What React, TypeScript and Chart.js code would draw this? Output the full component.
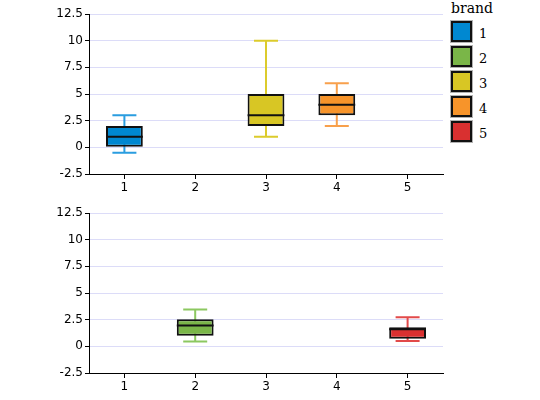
import { useEffect, useRef } from 'react';
import { Chart, registerables } from 'chart.js';

Chart.register(...registerables);

const brands = ['1', '2', '3', '4', '5'];
const yTicks = [-2.5, 0, 2.5, 5, 7.5, 10, 12.5];

const fills = ['#0088D1', '#7AB648', '#D8C624', '#F7942A', '#D93030'];
const whiskerColors = ['#2a9de0', '#8cc860', '#dccb2c', '#f8a04c', '#e24a4a'];

// top row
const topQ1 = [0, null, 2, 3, null];
const topQ3 = [2, null, 5, 5, null];
const topMedian = [1, null, 3, 4, null];
const topLow = [-0.5, null, 1, 2, null];
const topHigh = [3, null, 10, 6, null];

// bottom row
const botQ1 = [null, 1, null, null, 0.72];
const botQ3 = [null, 2.55, null, null, 1.78];
const botMedian = [null, 1.95, null, null, 1.6];
const botLow = [null, 0.45, null, null, 0.5];
const botHigh = [null, 3.45, null, null, 2.72];

const axisFont = { family: '"DejaVu Sans"', size: 12 };

type Row = {
  q1: (number | null)[];
  q3: (number | null)[];
  median: (number | null)[];
  low: (number | null)[];
  high: (number | null)[];
};

function Panel({ row, top }: { row: Row; top: number }) {
  const canvasRef = useRef<HTMLCanvasElement>(null);
  const chartRef = useRef<Chart | null>(null);

  useEffect(() => {
    if (!canvasRef.current) return;
    chartRef.current?.destroy();

    const whiskers = {
      id: 'whiskers',
      beforeDatasetsDraw(chart: any) {
        const { ctx, scales } = chart;
        const bars = chart.getDatasetMeta(0).data;
        ctx.save();
        ctx.lineWidth = 2;
        row.low.forEach((lo, i) => {
          const hi = row.high[i];
          if (lo == null || hi == null) return;
          const x = bars[i].x;
          const yLo = scales.y.getPixelForValue(lo);
          const yHi = scales.y.getPixelForValue(hi);
          const cap = 12;
          ctx.strokeStyle = whiskerColors[i];
          ctx.beginPath();
          ctx.moveTo(x, yLo);
          ctx.lineTo(x, yHi);
          ctx.moveTo(x - cap, yLo);
          ctx.lineTo(x + cap, yLo);
          ctx.moveTo(x - cap, yHi);
          ctx.lineTo(x + cap, yHi);
          ctx.stroke();
        });
        ctx.restore();
      },
      afterDatasetsDraw(chart: any) {
        const { ctx, scales } = chart;
        const bars = chart.getDatasetMeta(0).data;
        ctx.save();
        ctx.lineWidth = 2;
        ctx.strokeStyle = '#111';
        row.median.forEach((m, i) => {
          if (m == null) return;
          const b = bars[i];
          const y = scales.y.getPixelForValue(m);
          ctx.beginPath();
          ctx.moveTo(b.x - b.width / 2, y);
          ctx.lineTo(b.x + b.width / 2, y);
          ctx.stroke();
        });
        ctx.restore();
      },
    };

    chartRef.current = new Chart(canvasRef.current, {
      type: 'bar',
      data: {
        labels: brands,
        datasets: [
          {
            data: row.q1.map((q, i) => (q == null ? null : [q, row.q3[i] as number])) as any,
            backgroundColor: fills,
            borderColor: '#111',
            borderWidth: 2,
            borderSkipped: false,
            barPercentage: 0.52,
            categoryPercentage: 1,
          },
        ],
      },
      options: {
        responsive: false,
        animation: false,
        layout: { padding: { left: 0, right: 7, top: 14, bottom: 0 } },
        plugins: { legend: { display: false }, tooltip: { enabled: false } },
        scales: {
          x: {
            grid: {
              offset: false,
              drawOnChartArea: false,
              tickColor: '#000',
              tickLength: 5,
            },
            border: { color: '#000', width: 1 },
            ticks: { color: '#000', font: axisFont, padding: 2 },
            afterFit: (s: any) => {
              s.height = 26;
            },
          },
          y: {
            min: -2.5,
            max: 12.5,
            afterBuildTicks: (s: any) => {
              s.ticks = yTicks.map((v) => ({ value: v }));
            },
            grid: { color: '#dcdcf8', lineWidth: 1, tickColor: '#000', tickLength: 4 },
            border: { color: '#000', width: 1 },
            ticks: { color: '#000', font: axisFont, padding: 2 },
            afterFit: (s: any) => {
              s.width = 89;
            },
          },
        },
      },
      plugins: [whiskers],
    });

    return () => {
      chartRef.current?.destroy();
      chartRef.current = null;
    };
  }, [row]);

  return (
    <canvas
      ref={canvasRef}
      width={450}
      height={200}
      style={{ position: 'absolute', left: 0, top, width: 450, height: 200 }}
    />
  );
}

const topRow: Row = { q1: topQ1, q3: topQ3, median: topMedian, low: topLow, high: topHigh };
const botRow: Row = { q1: botQ1, q3: botQ3, median: botMedian, low: botLow, high: botHigh };

export default function App() {
  return (
    <div
      style={{
        position: 'fixed',
        left: 0,
        top: 0,
        width: 540,
        height: 400,
        background: '#fff',
      }}
    >
      <Panel row={topRow} top={0} />
      <Panel row={botRow} top={199} />
      <div
        style={{
          position: 'absolute',
          left: 451,
          top: 0,
          fontFamily: '"DejaVu Serif", serif',
          fontSize: 13,
          color: '#000',
        }}
      >
        <div style={{ fontSize: 14, lineHeight: '16px', height: 19 }}>brand</div>
        {brands.map((b, i) => (
          <div key={b} style={{ display: 'flex', alignItems: 'center', height: 25 }}>
            <div
              style={{
                width: 21,
                height: 21,
                boxSizing: 'border-box',
                background: fills[i],
                border: '2px solid #111',
                boxShadow: '0 0 0 1px rgba(0,0,0,0.3)',
              }}
            />
            <span style={{ marginLeft: 7, position: 'relative', top: 2 }}>{b}</span>
          </div>
        ))}
      </div>
    </div>
  );
}
